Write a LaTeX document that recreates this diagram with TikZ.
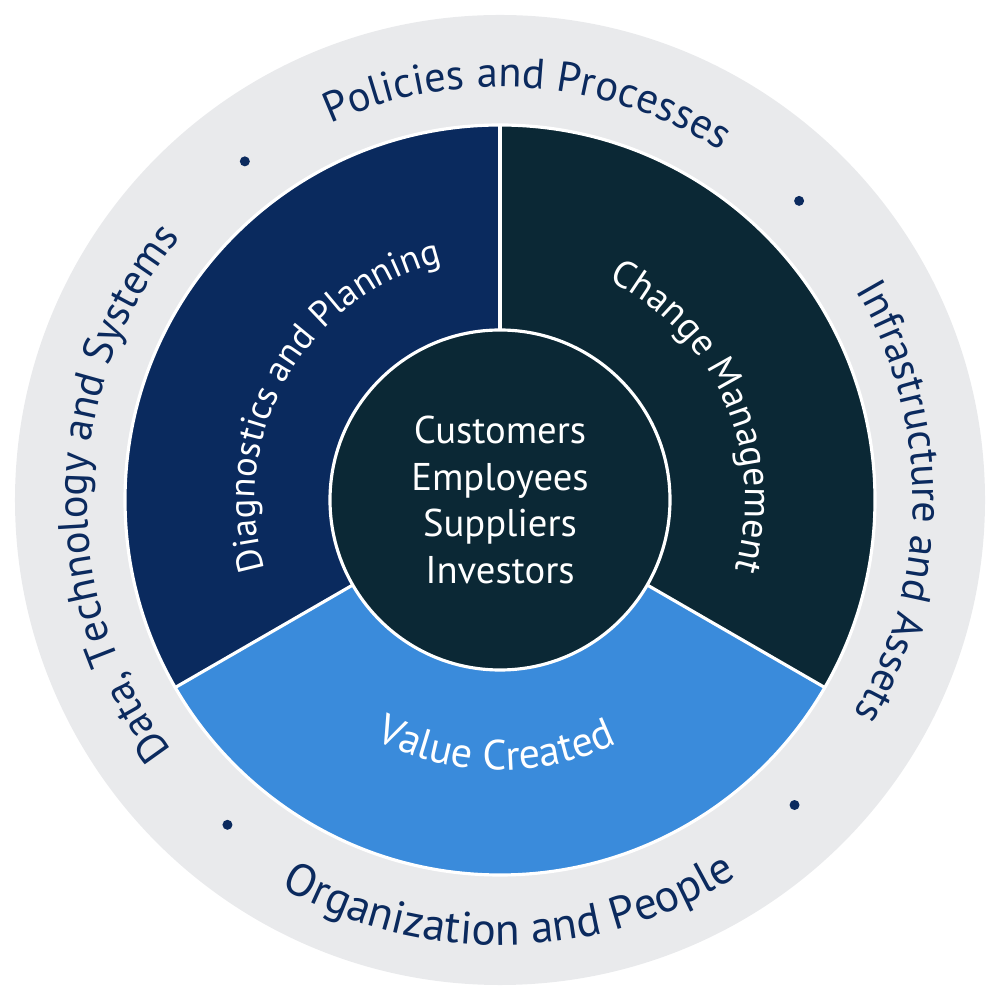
\documentclass[tikz,border=0pt]{standalone}
\usepackage{fontspec}
\setmainfont{PT Sans}
\usetikzlibrary{decorations.text}
\definecolor{ringgrey}{HTML}{E9EAEC}
\definecolor{navy}{HTML}{0A2A5E}
\definecolor{deepteal}{HTML}{0B2835}
\definecolor{skyblue}{HTML}{3A8BDB}
\definecolor{ink}{HTML}{0B2A5E}

\begin{document}
\begin{tikzpicture}[
  sep/.style={draw=white,line width=0.9pt},
  outer/.style 2 args={decorate,decoration={text along path,text align=center,text={|\fontsize{#1}{14}\selectfont\color{ink}|#2}}},
  inner/.style 2 args={decorate,decoration={text along path,text align=center,text={|\fontsize{#1}{13}\selectfont\color{white}|#2}}},
  dot/.style={circle,fill=ink,inner sep=0pt,minimum size=0.1cm}]
  \useasboundingbox (-5,-5) rectangle (5,5);
  \fill [ringgrey] (0,0) circle (4.85);

  \fill [navy] (0,0) -- (90:3.75) arc [start angle=90,end angle=210,radius=3.75] -- cycle;
  \fill [skyblue] (0,0) -- (210:3.75) arc [start angle=210,end angle=330,radius=3.75] -- cycle;
  \fill [deepteal] (0,0) -- (330:3.75) arc [start angle=330,end angle=450,radius=3.75] -- cycle;
  \draw [sep] (0,0) circle (3.75);
  \draw [sep] (0,0) -- (90:3.75);
  \draw [sep] (0,0) -- (210:3.75);
  \draw [sep] (0,0) -- (330:3.75);

  \node [circle,sep,fill=deepteal,minimum size=3.4cm,align=center,text=white,font=\fontsize{11}{13.2}\selectfont] (hub) at (0,0) {Customers\\Employees\\Suppliers\\Investors};

  % sector labels
  \path [inner={10.4}{Diagnostics and Planning}] (210:2.45) arc [start angle=210,end angle=90,radius=2.45];
  \path [inner={10.8}{Change Management}] (83.5:2.45) arc [start angle=83.5,end angle=-36.5,radius=2.45];
  \path [inner={12}{Value Created}] (209:2.70) arc [start angle=209,end angle=329,radius=2.70];

  % ring labels
  \path [outer={12.1}{Policies and Processes}] (176:4.13) arc [start angle=176,end angle=-4,radius=4.13];
  \path [outer={11.9}{Infrastructure and Assets}] (89.7:4.13) arc [start angle=89.7,end angle=-90.3,radius=4.13];
  \path [outer={12.9}{Organization and People}] (181.3:4.45) arc [start angle=181.3,end angle=361.3,radius=4.45];
  \path [outer={12.05}{Data, Technology and Systems}] (269:4.13) arc [start angle=269,end angle=89,radius=4.13];

  \node [dot] (d1) at (127:4.24) {};
  \node [dot] (d2) at (45:4.23) {};
  \node [dot] (d3) at (-46:4.24) {};
  \node [dot] (d4) at (-130:4.24) {};
\end{tikzpicture}
\end{document}
